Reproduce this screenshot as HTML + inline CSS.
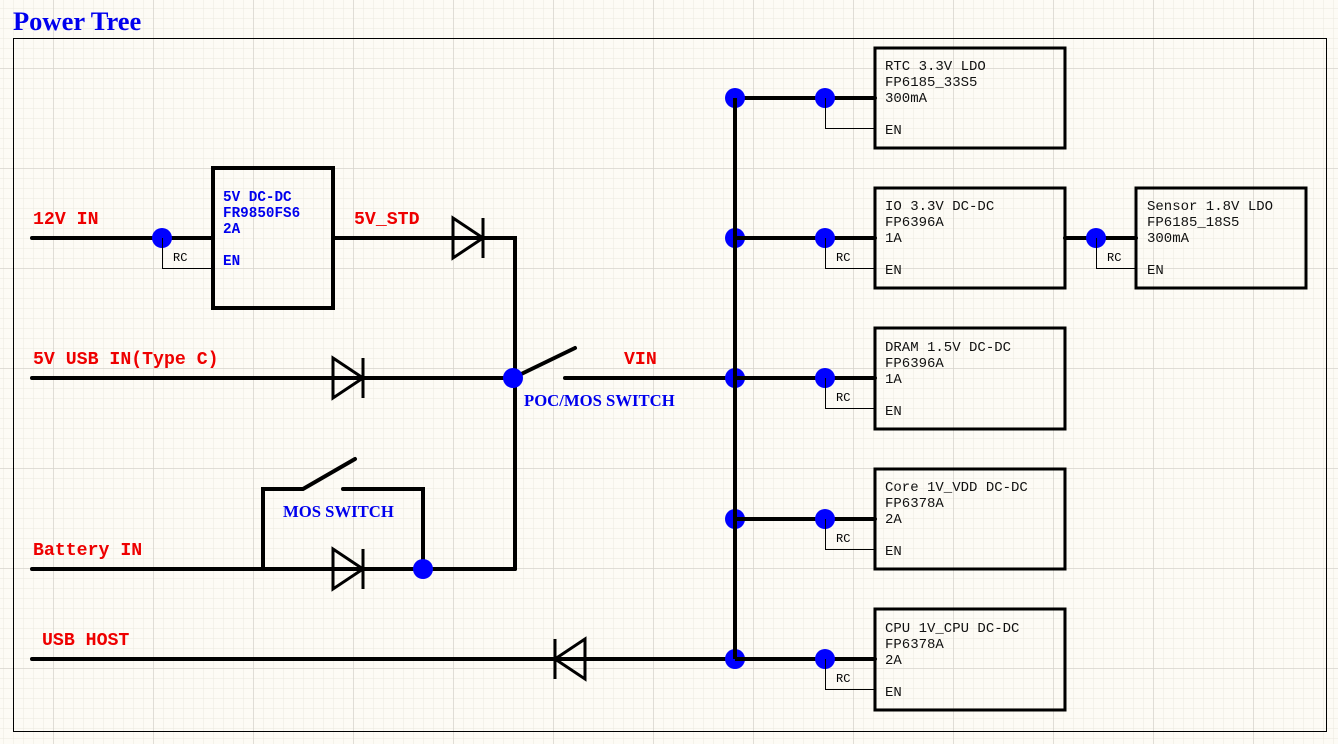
<!DOCTYPE html>
<html><head><meta charset="utf-8"><style>
html,body{margin:0;padding:0;background:#fdfbf5;}
svg{display:block}
.m{font-family:"Liberation Mono",monospace}
</style></head><body>
<svg width="1338" height="744" xmlns="http://www.w3.org/2000/svg">
<defs>
<pattern id="minor" x="3" y="8" width="10" height="10" patternUnits="userSpaceOnUse">
<path d="M0 0H10M0 0V10" stroke="#ebe8e0" stroke-width="1" fill="none"/>
</pattern>
<pattern id="major" x="53" y="68" width="100" height="100" patternUnits="userSpaceOnUse">
<path d="M0 0H100M0 0V100" stroke="#d6d3cc" stroke-width="1.5" fill="none"/>
</pattern>
</defs>
<rect width="1338" height="744" fill="#fdfbf5"/>
<rect width="1338" height="744" fill="url(#minor)"/>
<rect width="1338" height="744" fill="url(#major)"/>
<text x="13" y="30" font-family="Liberation Serif,serif" font-weight="bold" font-size="26.5" fill="#0000ee">Power Tree</text>
<rect x="13.5" y="38.5" width="1313" height="693" fill="none" stroke="#000" stroke-width="1"/>

<g stroke="#000" stroke-width="4" fill="none" stroke-linecap="round">
<path d="M32 238H213"/>
<rect x="213" y="168" width="120" height="140"/>
<path d="M333 238H515V569"/>
<path d="M32 378H513"/>
<path d="M513 378L575 348"/>
<path d="M565 378H735"/>
<path d="M32 569H515"/>
<path d="M263 569V489H303L355 459"/>
<path d="M343 489H423V569"/>
<path d="M32 659H735"/>
<path d="M735 98V659"/>
<path d="M735 98H875M735 238H875M735 378H875M735 519H875M735 659H875"/>
<path d="M1065 238H1136"/>
</g>
<g stroke="#000" stroke-width="3" fill="#fdfbf5">
<rect x="875" y="48" width="190" height="100" fill="none"/>
<rect x="875" y="188" width="190" height="100" fill="none"/>
<rect x="875" y="328" width="190" height="101" fill="none"/>
<rect x="875" y="469" width="190" height="100" fill="none"/>
<rect x="875" y="609" width="190" height="101" fill="none"/>
<rect x="1136" y="188" width="170" height="100" fill="none"/>
</g>
<g stroke="#000" stroke-width="3" fill="none">
<path d="M453 218L483 238L453 258Z M483 218V258"/>
<path d="M333 358L363 378L333 398Z M363 358V398"/>
<path d="M333 549L363 569L333 589Z M363 549V589"/>
<path d="M585 639L555 659L585 679Z M555 639V679"/>
</g>
<g fill="#0000ff">
<circle cx="162" cy="238" r="10"/>
<circle cx="513" cy="378" r="10"/>
<circle cx="423" cy="569" r="10"/>
<circle cx="735" cy="98" r="10"/><circle cx="735" cy="238" r="10"/><circle cx="735" cy="378" r="10"/><circle cx="735" cy="519" r="10"/><circle cx="735" cy="659" r="10"/>
<circle cx="825" cy="98" r="10"/><circle cx="825" cy="238" r="10"/><circle cx="825" cy="378" r="10"/><circle cx="825" cy="519" r="10"/><circle cx="825" cy="659" r="10"/>
<circle cx="1096" cy="238" r="10"/>
</g>
<g stroke="#000" stroke-width="4"><path d="M735 98V659"/><path d="M735 238H745M735 378H745M735 519H745M735 659H745"/></g>
<g stroke="#000" stroke-width="1" fill="none">
<path d="M162.5 238V268.5H213"/>
<path d="M825.5 98V128.5H875"/>
<path d="M825.5 238V268.5H875"/>
<path d="M825.5 378V408.5H875"/>
<path d="M825.5 519V549.5H875"/>
<path d="M825.5 659V689.5H875"/>
<path d="M1096.5 238V268.5H1136"/>
</g>
<g class="m" font-size="12" fill="#000">
<text x="173" y="261">RC</text>
<text x="836" y="261">RC</text>
<text x="836" y="401">RC</text>
<text x="836" y="542">RC</text>
<text x="836" y="682">RC</text>
<text x="1107" y="261">RC</text>
</g>
<g class="m" font-size="14.3" font-weight="bold" fill="#0000ee">
<text x="223" y="201">5V DC-DC</text>
<text x="223" y="217">FR9850FS6</text>
<text x="223" y="233">2A</text>
<text x="223" y="265">EN</text>
</g>
<g class="m" font-size="18.2" font-weight="bold" fill="#ee0000">
<text x="33" y="224">12V IN</text>
<text x="33" y="364">5V USB IN(Type C)</text>
<text x="33" y="555">Battery IN</text>
<text x="42" y="645">USB HOST</text>
<text x="354" y="224">5V_STD</text>
<text x="624" y="364">VIN</text>
</g>
<g font-family="Liberation Serif,serif" font-weight="bold" font-size="16.7" fill="#0000ee">
<text x="524" y="406">POC/MOS SWITCH</text>
<text x="283" y="517">MOS SWITCH</text>
</g>
<g class="m" font-size="14" fill="#111">
<text x="885" y="70">RTC 3.3V LDO</text><text x="885" y="86">FP6185_33S5</text><text x="885" y="102">300mA</text><text x="885" y="134">EN</text>
<text x="885" y="210">IO 3.3V DC-DC</text><text x="885" y="226">FP6396A</text><text x="885" y="242">1A</text><text x="885" y="274">EN</text>
<text x="885" y="351">DRAM 1.5V DC-DC</text><text x="885" y="367">FP6396A</text><text x="885" y="383">1A</text><text x="885" y="415">EN</text>
<text x="885" y="491">Core 1V_VDD DC-DC</text><text x="885" y="507">FP6378A</text><text x="885" y="523">2A</text><text x="885" y="555">EN</text>
<text x="885" y="632">CPU 1V_CPU DC-DC</text><text x="885" y="648">FP6378A</text><text x="885" y="664">2A</text><text x="885" y="696">EN</text>
<text x="1147" y="210">Sensor 1.8V LDO</text><text x="1147" y="226">FP6185_18S5</text><text x="1147" y="242">300mA</text><text x="1147" y="274">EN</text>
</g>
</svg>
</body></html>
